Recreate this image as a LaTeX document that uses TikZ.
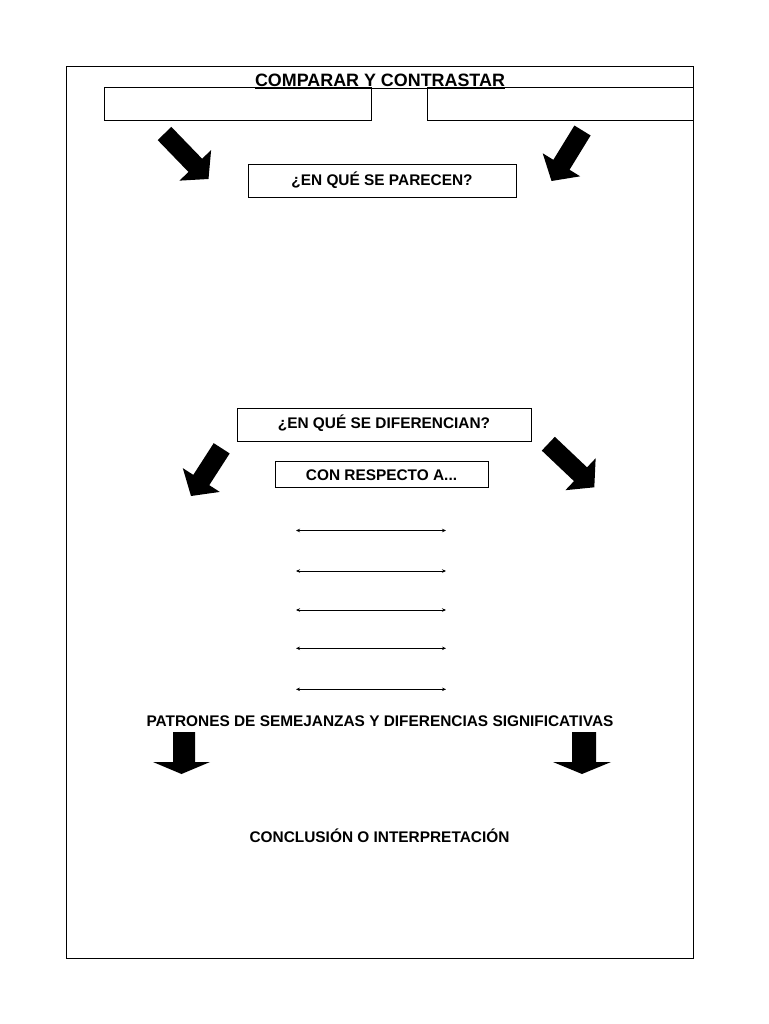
\documentclass[tikz,border=0pt]{standalone}
\usepackage{fontspec}
\setmainfont{Liberation Sans}
\usetikzlibrary{calc,arrows.meta}
\newcommand\blkarrow[2]{%
  \coordinate (bah) at ($(#2)!19pt!(#1)$);
  \fill[black] ($(#1)!9.5pt!90:(#2)$) -- ($(bah)!9.5pt!90:(#2)$) -- ($(bah)!22pt!90:(#2)$) -- (#2)
    -- ($(bah)!22pt!-90:(#2)$) -- ($(bah)!9.5pt!-90:(#2)$) -- ($(#1)!9.5pt!-90:(#2)$) -- cycle;}
\tikzset{
  box/.style={draw=black, line width=0.8pt, inner sep=0pt, fill=white},
  lbl/.style={font=\fontsize{15.4}{18}\selectfont\bfseries, inner sep=0pt},
  dline/.style={line width=0.8pt, {Stealth[length=4pt,width=3.5pt]}-{Stealth[length=4pt,width=3.5pt]}},
  blk/.style={fill=black}
}
\begin{document}
\begin{tikzpicture}[x=1pt,y=-1pt]
\useasboundingbox (0,0) rectangle (768,1024);
\fill[white] (0,0) rectangle (768,1024);
% frame
\node[draw=black, line width=0.8pt, minimum width=627pt, minimum height=892pt, inner sep=0pt, anchor=north west] (frame) at (66,66) {};
% top boxes
\node[box, minimum width=267pt, minimum height=33pt, anchor=north west] (left) at (103.5,87.5) {};
\node[box, minimum width=266pt, minimum height=33pt, anchor=north west] (right) at (427,87.5) {};
% title
\node[font=\fontsize{17.9}{20}\selectfont\bfseries, inner sep=0pt, anchor=base] (title) at (380,86.5) {COMPARAR Y CONTRASTAR};
\draw[line width=0.8pt] ([yshift=-2pt]title.base west) -- ([yshift=-2pt]title.base east);
% question boxes
\node[box, lbl, minimum width=268pt, minimum height=33pt, text height=11pt, text depth=0pt] (par) at (382,180.5) {¿EN QUÉ SE PARECEN?};
\node[box, lbl, minimum width=294pt, minimum height=33pt, text height=11pt, text depth=3.4pt] (dif) at (384,424.5) {¿EN QUÉ SE DIFERENCIAN?};
\node[box, lbl, minimum width=213pt, minimum height=25.5pt, text height=11pt, text depth=0pt] (resp) at (381.5,474.6) {CON RESPECTO A...};
% diagonal block arrows
\coordinate (tla) at (164.5,133.5); \coordinate (tlb) at (208.5,179);
\coordinate (tra) at (582.5,130.5); \coordinate (trb) at (551.5,181);
\coordinate (mla) at (221.7,448.3); \coordinate (mlb) at (191,496);
\coordinate (mra) at (548.3,443.7); \coordinate (mrb) at (594.3,487.3);
\blkarrow{tla}{tlb}
\blkarrow{tra}{trb}
\blkarrow{mla}{mlb}
\blkarrow{mra}{mrb}
% double-headed lines
\foreach \i/\yy in {1/530.5,2/571,3/610,4/648.3,5/689.3}{
  \coordinate (da\i) at (296,\yy);
  \coordinate (db\i) at (446,\yy);
  \draw[dline] (da\i) -- (db\i);
}
% patterns text
\node[lbl, anchor=base] (pat) at (380,726.7) {PATRONES DE SEMEJANZAS Y DIFERENCIAS SIGNIFICATIVAS};
% down arrows
\fill[blk] (173,732) -- (195,732) -- (195,762) -- (210,762) -- (181.5,774) -- (153,762) -- (173,762) -- cycle;
\fill[blk] (572,732) -- (596,732) -- (596,762) -- (611,762) -- (582,774) -- (553,762) -- (572,762) -- cycle;
% conclusion
\node[lbl, anchor=base] (conc) at (379.5,842) {CONCLUSIÓN O INTERPRETACIÓN};
\end{tikzpicture}
\end{document}
